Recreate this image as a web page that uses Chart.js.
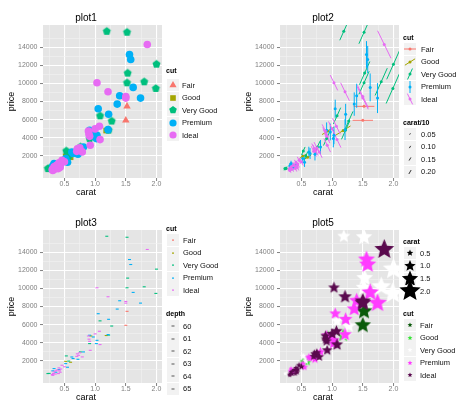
<!DOCTYPE html>
<html>
<head>
<meta charset="utf-8">
<script src="https://cdn.jsdelivr.net/npm/chart.js@4.4.1/dist/chart.umd.min.js"></script>
<style>
body{margin:0;background:#fff;font-family:"Liberation Sans",Arial,sans-serif;}
#wrap{position:relative;width:474px;height:410px;overflow:hidden;background:#fff}
.q{position:absolute;width:237px;height:205px}
.q canvas.c{position:absolute;left:0;top:0}
.lt{position:absolute;font-size:7px;font-weight:bold;color:#000;line-height:8px;white-space:nowrap}
.ll{position:absolute;font-size:7.5px;color:#111;line-height:9px;white-space:nowrap}
.lk{position:absolute}
</style>
</head>
<body>
<div id="wrap">
  <div class="q" id="q1" style="left:0;top:0"><canvas class="c" id="c1" width="174" height="205"></canvas></div>
  <div class="q" id="q2" style="left:237px;top:0"><canvas class="c" id="c2" width="174" height="205"></canvas></div>
  <div class="q" id="q3" style="left:0;top:205px"><canvas class="c" id="c3" width="174" height="205"></canvas></div>
  <div class="q" id="q4" style="left:237px;top:205px"><canvas class="c" id="c4" width="174" height="205"></canvas></div>
</div>
<script>
/* DATA */
const cutNames = ["Fair","Good","Very Good","Premium","Ideal"];

const carat = [
1.52,1.50,
0.52,0.60,1.18,0.93,
1.19,1.52,2.00,1.53,1.52,1.80,1.99,1.08,1.27,1.22,0.91,0.76,0.53,0.57,0.23,0.25,
1.56,1.58,1.62,1.40,1.74,1.36,1.05,1.22,1.21,0.91,0.97,1.03,1.02,0.81,0.72,0.64,0.62,0.52,0.55,0.33,0.31,0.36,0.41,
1.85,1.03,1.21,1.50,1.50,1.07,1.00,0.89,0.91,0.92,1.08,0.90,0.73,0.71,0.75,0.79,0.70,0.46,0.41,0.38,0.42,0.43,0.33,0.30,0.32,0.31,0.35,0.36,0.40,0.44,0.50
];
const price = [
7470,5930,
1950,1850,4800,4750,
15760,15650,12130,11140,10070,10180,9450,6420,5850,4850,3910,2990,2550,1980,600,620,
13190,12640,9560,8640,8380,7720,7210,6590,4900,4830,4640,4270,3910,2990,2180,2260,2430,1700,1300,1150,900,750,1050,
14300,10070,9080,8560,8380,5270,4980,4750,4160,3170,3800,4400,2620,2780,2900,2440,2500,1520,1230,1000,900,750,790,500,600,400,550,900,600,1100,1350
];
const cut = [
"Fair","Fair",
"Good","Good","Good","Good",
"Very Good","Very Good","Very Good","Very Good","Very Good","Very Good","Very Good","Very Good","Very Good","Very Good","Very Good","Very Good","Very Good","Very Good","Very Good","Very Good",
"Premium","Premium","Premium","Premium","Premium","Premium","Premium","Premium","Premium","Premium","Premium","Premium","Premium","Premium","Premium","Premium","Premium","Premium","Premium","Premium","Premium","Premium","Premium",
"Ideal","Ideal","Ideal","Ideal","Ideal","Ideal","Ideal","Ideal","Ideal","Ideal","Ideal","Ideal","Ideal","Ideal","Ideal","Ideal","Ideal","Ideal","Ideal","Ideal","Ideal","Ideal","Ideal","Ideal","Ideal","Ideal","Ideal","Ideal","Ideal","Ideal","Ideal"
];

const xMajor = [0.5,1.0,1.5,2.0];
const xMinor = [0.25,0.75,1.25,1.75];
const yMajor = [2000,4000,6000,8000,10000,12000,14000];
const yMinor = [1000,3000,5000,7000,9000,11000,13000,15000];

const caratKeys = [0.5,1.0,1.5,2.0];
const carat10Keys = [0.05,0.10,0.15,0.20];
const depthKeys = [60,61,62,63,64,65];

/* STYLE */
const FONT = '"Liberation Sans", Arial, sans-serif';
const HUE = ["#F8766D","#A3A500","#00BF7D","#00B0F6","#E76BF3"];
const STAR_COL = ["#0b5a0b","#3ce43c","#ffffff","#ff3cff","#5a0a4e"];
const SEG_ANGLE = [0,32,66,90,116];
const PANEL = "#E5E5E5", MINOR = "#F2F2F2", KEYBG = "#F2F2F2";

function pts(name){
  let out=[];
  carat.forEach((c,i)=>{ if(cut[i]===name) out.push({x:c,y:price[i]}); });
  return out;
}

/* shapes */
function pentagon(g,x,y,r){
  g.beginPath();
  for(let i=0;i<5;i++){
    let a=-Math.PI/2+i*2*Math.PI/5;
    g.lineTo(x+r*Math.cos(a),y+r*Math.sin(a));
  }
  g.closePath(); g.fill();
}
function star(g,x,y,r){
  g.beginPath();
  for(let i=0;i<10;i++){
    let rr=i%2?r*0.45:r, a=-Math.PI/2+i*Math.PI/5;
    g.lineTo(x+rr*Math.cos(a),y+rr*Math.sin(a));
  }
  g.closePath(); g.fill();
}
function shapeCanvas(r,color,fn){
  let s=Math.ceil(r*2+2);
  let c=document.createElement("canvas"); c.width=s; c.height=s;
  let g=c.getContext("2d"); g.fillStyle=color; fn(g,s/2,s/2,r);
  return c;
}
const pent = shapeCanvas(4.2,HUE[2],pentagon);
let starCache={};
function starImg(c,color){
  let k=c+color;
  if(!starCache[k]) starCache[k]=shapeCanvas(5.2*c+0.8,color,star);
  return starCache[k];
}

/* background plugin */
const bgPlugin={
  id:"bg",
  beforeDraw(chart){
    let {ctx,chartArea:a}=chart;
    ctx.save(); ctx.fillStyle=PANEL;
    ctx.fillRect(a.left,a.top,a.right-a.left,a.bottom-a.top);
    ctx.restore();
  }
};

/* segment plugin for plot2 */
const segPlugin={
  id:"segs",
  beforeDatasetsDraw(chart){
    let {ctx,chartArea:a,scales:{x,y}}=chart;
    ctx.save();
    ctx.beginPath(); ctx.rect(a.left,a.top,a.right-a.left,a.bottom-a.top); ctx.clip();
    ctx.lineWidth=1;
    chart.data.datasets.forEach((ds,i)=>{
      let ang=SEG_ANGLE[i]*Math.PI/180, k=6.8+1.8*Math.sin(ang)*Math.sin(ang);
      ctx.strokeStyle=HUE[i];
      ds.data.forEach(p=>{
        let px=x.getPixelForValue(p.x), py=y.getPixelForValue(p.y), h=k*p.x;
        ctx.beginPath();
        ctx.moveTo(px-h*Math.cos(ang),py+h*Math.sin(ang));
        ctx.lineTo(px+h*Math.cos(ang),py-h*Math.sin(ang));
        ctx.stroke();
      });
    });
    ctx.restore();
  }
};

function axis(major,minor,min,max,fmt){
  let isMinor=c=>c.tick&&minor.includes(c.tick.value);
  return {
    type:"linear",min:min,max:max,
    afterBuildTicks:s=>{ s.ticks=major.concat(minor).sort((a,b)=>a-b).map(v=>({value:v})); },
    border:{display:false},
    grid:{
      color:c=>isMinor(c)?MINOR:"#ffffff",
      lineWidth:c=>isMinor(c)?0.6:1.1,
      tickLength:3,
      tickColor:c=>isMinor(c)?"rgba(0,0,0,0)":"#7f7f7f",
      tickWidth:1
    },
    ticks:{
      autoSkip:false,maxRotation:0,minRotation:0,color:"#7f7f7f",
      font:{family:FONT,size:7,lineHeight:1},
      callback:v=>major.includes(v)?fmt(v):""
    }
  };
}

function options(title){
  let x=axis(xMajor,xMinor,0.15,2.09,v=>v.toFixed(1));
  x.afterFit=s=>{ s.height=10.5; };
  x.ticks.padding=0;
  let y=axis(yMajor,yMinor,-440,16450,v=>String(v));
  y.afterFit=s=>{ s.width=33; };
  y.ticks.padding=2.5;
  y.title={display:true,text:"price",color:"#000",font:{family:FONT,size:9,lineHeight:1},padding:{top:-2.5,bottom:0}};
  return {
    responsive:false,animation:false,devicePixelRatio:1,
    layout:{padding:{left:10,right:12,top:0,bottom:0}},
    plugins:{
      legend:{display:false},tooltip:{enabled:false},
      title:{display:true,text:title,color:"#000",font:{family:FONT,size:10,weight:"normal",lineHeight:1},padding:{top:13,bottom:2}},
      subtitle:{display:true,text:"carat",position:"bottom",color:"#000",font:{family:FONT,size:9,lineHeight:1},padding:{top:0,bottom:7.5}}
    },
    scales:{x:x,y:y}
  };
}

/* PLOT 1 */
const shape1=["triangle","rect",pent,"circle","circle"];
const rad1=[4.3,4,4,3.8,3.8];
new Chart(document.getElementById("c1"),{
  type:"scatter",
  data:{datasets:cutNames.map((n,i)=>({
    label:n,data:pts(n),pointStyle:shape1[i],pointRadius:rad1[i],
    backgroundColor:HUE[i],borderWidth:0,order:4-i
  }))},
  options:options("plot1"),
  plugins:[bgPlugin]
});

/* PLOT 2 */
new Chart(document.getElementById("c2"),{
  type:"scatter",
  data:{datasets:cutNames.map((n,i)=>({
    label:n,data:pts(n),pointStyle:"circle",pointRadius:1.5,
    backgroundColor:HUE[i],borderWidth:0,order:4-i
  }))},
  options:options("plot2"),
  plugins:[bgPlugin,segPlugin]
});

/* PLOT 3 */
new Chart(document.getElementById("c3"),{
  type:"scatter",
  data:{datasets:cutNames.map((n,i)=>({
    label:n,data:pts(n),pointStyle:"line",pointRadius:1.5,
    borderColor:HUE[i],borderWidth:1.1,order:4-i
  }))},
  options:options("plot3"),
  plugins:[bgPlugin]
});

/* PLOT 5 */
new Chart(document.getElementById("c4"),{
  type:"scatter",
  data:{datasets:cutNames.map((n,i)=>({
    label:n,data:pts(n),pointRadius:3,borderWidth:0,order:4-i,
    pointStyle:c=>starImg(c.raw?c.raw.x:1,STAR_COL[i])
  }))},
  options:options("plot5"),
  plugins:[bgPlugin]
});

/* LEGENDS */
function keyCanvas(q,cx,cy,size,draw){
  let c=document.createElement("canvas");
  c.width=size;c.height=size;c.className="lk";
  c.style.left=(cx-size/2)+"px"; c.style.top=(cy-size/2)+"px";
  let g=c.getContext("2d");
  g.fillStyle=KEYBG; g.fillRect(size/2-6,size/2-6,12,12);
  draw(g,size/2,size/2);
  q.appendChild(c);
}
function ltitle(q,text,y){
  let d=document.createElement("div"); d.className="lt"; d.textContent=text;
  d.style.left="166px"; d.style.top=(y-4)+"px"; q.appendChild(d);
}
function llabel(q,text,x,y){
  let d=document.createElement("div"); d.className="ll"; d.textContent=text;
  d.style.left=x+"px"; d.style.top=(y-4.5)+"px"; q.appendChild(d);
}

const q1=document.getElementById("q1"),q2=document.getElementById("q2"),
      q3=document.getElementById("q3"),q4=document.getElementById("q4");

// plot1
ltitle(q1,"cut",71);
cutNames.forEach((n,i)=>{
  let y=85+i*12.5;
  keyCanvas(q1,173,y,12,(g,x,yy)=>{
    g.fillStyle=HUE[i];
    if(i===0){ g.beginPath(); g.moveTo(x,yy-4); g.lineTo(x+3.6,yy+2.2); g.lineTo(x-3.6,yy+2.2); g.closePath(); g.fill(); }
    else if(i===1){ g.fillRect(x-2.8,yy-2.8,5.6,5.6); }
    else if(i===2){ pentagon(g,x,yy,4); }
    else { g.beginPath(); g.arc(x,yy,3.6,0,Math.PI*2); g.fill(); }
  });
  llabel(q1,n,182,y);
});

// plot2
ltitle(q2,"cut",38);
cutNames.forEach((n,i)=>{
  let y=49+i*12.5;
  keyCanvas(q2,173,y,12,(g,x,yy)=>{
    let a=SEG_ANGLE[i]*Math.PI/180, h=6;
    g.strokeStyle=HUE[i]; g.lineWidth=1;
    g.beginPath(); g.moveTo(x-h*Math.cos(a),yy+h*Math.sin(a)); g.lineTo(x+h*Math.cos(a),yy-h*Math.sin(a)); g.stroke();
    g.fillStyle=HUE[i]; g.beginPath(); g.arc(x,yy,1.5,0,Math.PI*2); g.fill();
  });
  llabel(q2,n,184,y);
});
ltitle(q2,"carat/10",123);
carat10Keys.forEach((v,i)=>{
  let y=134+i*12.5;
  keyCanvas(q2,173,y,12,(g,x,yy)=>{
    let h=v*10+0.3, a=60*Math.PI/180;
    g.strokeStyle="#333"; g.lineWidth=1;
    g.beginPath(); g.moveTo(x-h*Math.cos(a),yy+h*Math.sin(a)); g.lineTo(x+h*Math.cos(a),yy-h*Math.sin(a)); g.stroke();
  });
  llabel(q2,v.toFixed(2),184,y);
});

// plot3
ltitle(q3,"cut",24);
cutNames.forEach((n,i)=>{
  let y=35+i*12.5;
  keyCanvas(q3,173,y,12,(g,x,yy)=>{ g.fillStyle=HUE[i]; g.fillRect(x-1,yy-0.5,2,1.2); });
  llabel(q3,n,183,y);
});
ltitle(q3,"depth",109);
depthKeys.forEach((v,i)=>{
  let y=121+i*12.5;
  keyCanvas(q3,173,y,12,(g,x,yy)=>{ g.fillStyle="#555"; g.fillRect(x-1.5,yy-0.5,3,1); });
  llabel(q3,String(v),183,y);
});

// plot5
ltitle(q4,"carat",37);
caratKeys.forEach((v,i)=>{
  let y=48+i*12.8;
  keyCanvas(q4,173,y,28,(g,x,yy)=>{ g.fillStyle="#000"; star(g,x,yy,5.2*v+0.8); });
});
caratKeys.forEach((v,i)=>{ llabel(q4,v.toFixed(1),183,48+i*12.8); });
ltitle(q4,"cut",109);
cutNames.forEach((n,i)=>{
  let y=120+i*12.5;
  keyCanvas(q4,173,y,12,(g,x,yy)=>{ g.fillStyle=STAR_COL[i]; star(g,x,yy,2.6); });
  llabel(q4,n,183,y);
});
</script>
</body>
</html>
